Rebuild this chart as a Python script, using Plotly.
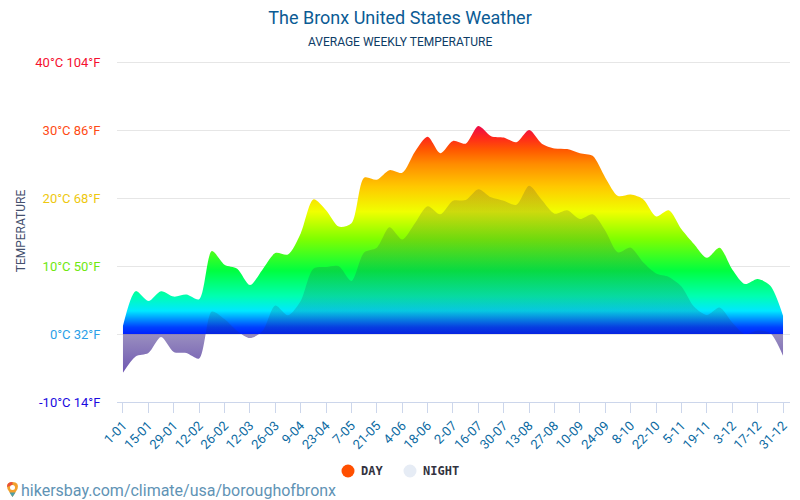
import plotly.graph_objects as go

title = "The Bronx United States Weather"
subtitle = "AVERAGE WEEKLY TEMPERATURE"
footer = "hikersbay.com/climate/usa/boroughofbronx"

tick_labels = ["1-01", "15-01", "29-01", "12-02", "26-02", "12-03", "26-03", "9-04", "23-04",
               "7-05", "21-05", "4-06", "18-06", "2-07", "16-07", "30-07", "13-08", "27-08",
               "10-09", "24-09", "8-10", "22-10", "5-11", "19-11", "3-12", "17-12", "31-12"]

day = [1.2, 6.3, 4.85, 6.3, 5.5, 5.8, 5.1, 12.2, 10.2, 9.6, 7.2, 9.5, 11.9, 11.7, 14.8, 19.8, 18.2,
       15.8, 16.3, 23.0, 22.7, 24.1, 23.7, 26.8, 29.0, 26.6, 28.4, 28.0, 30.6, 29.1, 28.9, 28.2, 30.0,
       28.0, 27.3, 27.2, 26.6, 26.2, 23.0, 20.3, 20.5, 19.8, 17.3, 18.2, 15.4, 13.2, 11.2, 12.7, 9.5,
       7.35, 8.1, 7.1, 2.7]
night = [-5.7, -3.3, -2.8, -0.45, -2.65, -2.8, -3.6, 3.3, 2.2, 0.45, -0.6, 0.45, 4.2, 2.75, 4.85, 9.6,
         9.85, 9.95, 7.8, 12.0, 12.7, 15.7, 13.9, 16.3, 18.8, 17.6, 19.6, 19.7, 21.3, 20.1, 19.6, 19.0,
         21.8, 19.7, 17.7, 18.2, 16.9, 17.6, 15.2, 12.0, 12.7, 10.5, 8.9, 8.4, 7.0, 4.0, 2.8, 3.9, 1.7,
         0.0, 0.5, 0.1, -3.2]
weeks = list(range(len(day)))

y_vals = [40, 30, 20, 10, 0, -10]
y_names = ["40°C 104°F", "30°C 86°F", "20°C 68°F", "10°C 50°F", "0°C 32°F", "-10°C 14°F"]
y_colors = ["#f5102f", "#ff4b14", "#eec80f", "#6fe80f", "#2a9fe8", "#1a0ae0"]
y_text = ['<span style="color:%s">%s</span>' % (c, n) for c, n in zip(y_colors, y_names)]

legend_names = ["DAY", "NIGHT"]
legend_colors = ["#ff4f00", "#e6ecf5"]
legend_x = [348, 410]

# -10 .. 40 mapped to 0 .. 1
day_scale = [[0, "#0020ff"], [0.2, "#0020ff"], [0.22, "#0040ff"], [0.268, "#00e8ff"], [0.312, "#00ffb0"],
             [0.386, "#00ff40"], [0.48, "#80ff00"], [0.56, "#f0ff00"], [0.634, "#ffc800"], [0.70, "#ff8c00"],
             [0.74, "#ff5a00"], [0.776, "#ff2a1a"], [0.804, "#f01040"], [1, "#f01040"]]
night_scale = [[0, "rgba(70,30,170,0.95)"], [0.2, "rgba(70,50,140,0.55)"], [0.2001, "rgba(40,50,90,0.18)"],
               [1, "rgba(50,50,50,0.18)"]]


def paper_x(x):
    return (x - 117) / 673


def paper_y(y):
    return (402 - y) / 342


def px(x, y):
    # pixel position on the page to paper coordinates
    return "%.4f %.4f" % (paper_x(x), paper_y(y))


pin = "M" + px(12.5, 497) + " L" + px(7.5, 489) + " Q" + px(5.5, 482) + " " + px(12.5, 482) + \
      " Q" + px(19.5, 482) + " " + px(17.5, 489) + " Z"
pin_top = "M" + px(7, 487) + " Q" + px(7, 482) + " " + px(12.5, 482) + " L" + px(12.5, 485) + " Z"
pin_tip = "M" + px(12.5, 497) + " L" + px(9.5, 492.5) + " L" + px(15.5, 492.5) + " Z"

shapes = [
    dict(type="path", path=pin, fillcolor="#f2a02c"),
    dict(type="path", path=pin_top, fillcolor="#e8503a"),
    dict(type="path", path=pin_tip, fillcolor="#4f9fa8"),
    dict(type="circle", x0=paper_x(10), x1=paper_x(15), y0=paper_y(490), y1=paper_y(485), fillcolor="white"),
]
annotations = [
    dict(text=subtitle, x=paper_x(400), xanchor="center", y=paper_y(42), font=dict(size=12, color="#0d3c66")),
    dict(text=footer, x=paper_x(19), xanchor="left", y=paper_y(490), font=dict(size=16, color="#5f93b5")),
]
for name, color, lx in zip(legend_names, legend_colors, legend_x):
    shapes.append(dict(type="circle", x0=paper_x(lx - 6.5), x1=paper_x(lx + 6.5), y0=paper_y(477.5),
                       y1=paper_y(464.5), fillcolor=color))
    annotations.append(dict(text=name, x=paper_x(lx + 11), xanchor="left", y=paper_y(471),
                            font=dict(family="DejaVu Sans Mono", size=12, color="#333340", weight="bold")))
for s in shapes:
    s.update(xref="paper", yref="paper", line_width=0)
for a in annotations:
    a.update(xref="paper", yref="paper", yanchor="middle", showarrow=False)

fig = go.Figure()
fig.add_trace(go.Scatter(x=weeks, y=day, mode="lines", fill="tozeroy", showlegend=False,
                         line=dict(width=0, shape="spline", smoothing=0.8),
                         fillgradient=dict(type="vertical", colorscale=day_scale, start=-10, stop=40)))
fig.add_trace(go.Scatter(x=weeks, y=night, mode="lines", fill="tozeroy", showlegend=False,
                         line=dict(width=0, shape="spline", smoothing=0.8),
                         fillgradient=dict(type="vertical", colorscale=night_scale, start=-10, stop=40)))

fig.update_layout(
    width=800, height=500, plot_bgcolor="white", paper_bgcolor="white", showlegend=False,
    margin=dict(l=117, r=10, t=60, b=98, autoexpand=False),
    font=dict(family="Roboto"),
    title=dict(text=title, x=0.5, xanchor="center", y=0.964, yanchor="middle",
               font=dict(size=18, color="#0b5b94")),
    xaxis=dict(range=[-0.47, 52.55], tickvals=weeks[::2], ticktext=tick_labels, tickangle=-45,
               ticks="outside", ticklen=10, tickcolor="#ccd6eb", showgrid=False, zeroline=False,
               showline=True, linecolor="#ccd6eb", tickfont=dict(size=13, color="#0b6aa2")),
    yaxis=dict(range=[-10, 40.3], tickvals=y_vals, ticktext=y_text, gridcolor="#e6e6e6", zeroline=False,
               ticks="outside", ticklen=13, tickcolor="rgba(0,0,0,0)", tickfont=dict(size=13),
               title=dict(text="TEMPERATURE", standoff=7, font=dict(size=12, color="#44506e"))),
    shapes=shapes,
    annotations=annotations,
)

fig.write_html("out.html", config={"displayModeBar": False},
               post_script="document.body.style.margin='0';")
